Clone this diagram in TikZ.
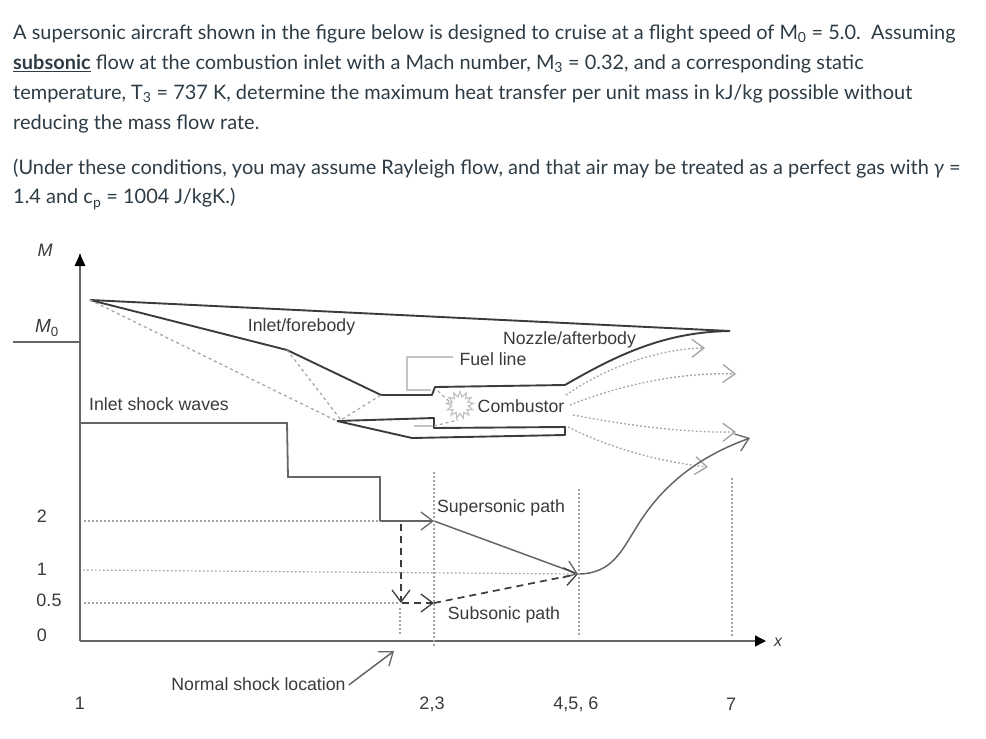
\documentclass[tikz,border=0pt]{standalone}
\usepackage{fontspec}
\setmainfont{Lato}
\newfontfamily\figfont{Liberation Sans}
\usetikzlibrary{arrows.meta,shapes.geometric}
\definecolor{bodytxt}{HTML}{2D3B45}
\definecolor{figtxt}{HTML}{3A3A3A}
\definecolor{wall}{HTML}{3C3C3C}
\definecolor{axisc}{HTML}{666666}
\definecolor{graph}{HTML}{666666}
\definecolor{dots}{HTML}{A2A2A2}
\definecolor{fuel}{HTML}{C4C4C4}
\tikzset{
  x=1pt,y=-1pt,
  body/.style={anchor=west,inner sep=0pt,text=bodytxt,font=\fontsize{19.95}{24}\selectfont},
  fig/.style={inner sep=0pt,text=figtxt,font=\figfont\fontsize{17.7}{21}\selectfont},
  tick/.style={fig,font=\figfont\fontsize{18}{19}\selectfont},
  vee/.style={-{Straight Barb[length=12pt,width=18pt,line width=1.3pt]}},
  wallline/.style={draw=wall,line width=1.9pt,line join=round},
  axisline/.style={draw=axisc,line width=1.5pt},
  stepline/.style={draw=graph,line width=1.8pt},
  pathline/.style={draw=graph,line width=1.5pt},
  dashpath/.style={draw=wall,line width=1.7pt,dash pattern=on 7pt off 5pt},
  dotline/.style={draw=dots,line width=1.2pt,dash pattern=on 1.6pt off 2.4pt},
  flowline/.style={draw=dots,line width=1.3pt,dash pattern=on 1.8pt off 2.2pt},
  shockline/.style={draw=dots,line width=1.2pt,dash pattern=on 3pt off 3pt},
  fuelline/.style={draw=fuel,line width=2.2pt},
}
\begin{document}
\begin{tikzpicture}
\useasboundingbox (0,0) rectangle (986,739);
% problem text
\node[body] at (13,34) {A supersonic aircraft shown in the figure below is designed to cruise at a flight speed of M\textsubscript{0} = 5.0.\ \ Assuming};
\node[body] at (13,64) {\underline{\textbf{subsonic}} flow at the combustion inlet with a Mach number, M\textsubscript{3} = 0.32, and a corresponding static};
\node[body] at (13,94) {temperature, T\textsubscript{3} = 737 K, determine the maximum heat transfer per unit mass in kJ/kg possible without};
\node[body] at (13,124) {reducing the mass flow rate.};
\node[body] at (13,169) {(Under these conditions, you may assume Rayleigh flow, and that air may be treated as a perfect gas with \textit{γ} =};
\node[body] at (13,199) {1.4 and c\textsubscript{p} = 1004 J/kgK.)};

% named points
\coordinate (org) at (80,641);
\coordinate (ytop) at (80,254);
\coordinate (xend) at (766,641);
\coordinate (m0l) at (13,342);
\coordinate (m0r) at (80,342);
\coordinate (nose) at (90,300);
\coordinate (tail) at (730,331);
\coordinate (ramp) at (287,350);
\coordinate (throatU) at (381,395);
\coordinate (cowl) at (337,421);
\coordinate (st1) at (80,423);
\coordinate (st2) at (287,423);
\coordinate (st3) at (288,477);
\coordinate (st4) at (380,477);
\coordinate (st5) at (380,521);
\coordinate (p23sup) at (434,521);
\coordinate (p23sub) at (434,603);
\coordinate (p456) at (578,574);
\coordinate (ntop) at (401,524);
\coordinate (nbot) at (401,603);

% axes
\draw[axisline] (org) -- (ytop);
\draw[axisline,-{Triangle[length=11pt,width=11pt,color=black]}] (org) -- (xend);
\fill[black] (74.5,266) -- (80,254) -- (85.5,266) -- cycle;
\draw[axisline] (m0l) -- (m0r);

% vehicle
\draw[wallline] (nose) -- (tail);
\draw[wallline] (nose) -- (ramp) -- (throatU) -- (432,395) -- (435,387) -- (565,385)
  .. controls (625,350) and (670,332) .. (tail);
\draw[wallline] (cowl) -- (434,418) -- (434,428) -- (565,427) -- (565,435) -- (412,438) -- (cowl);

% shocks
\draw[shockline] (nose) -- (cowl);
\draw[shockline] (ramp) -- (341,420) -- (throatU);
\draw[shockline] (438,391) -- (452,404);
\draw[shockline] (434,426) -- (458,420);

% fuel
\draw[fuelline] (453,357) -- (407,357) -- (407,390) -- (431,390);
\draw[fuelline] (414,426) -- (433,426);
\node[draw=fuel,line width=1.3pt,star,star points=13,star point ratio=1.6,minimum size=27pt,inner sep=0pt] (burst) at (460,405) {};

% exhaust flow
\draw[flowline,vee] (566,395) .. controls (610,365) and (660,349) .. (705,348);
\draw[flowline,vee] (570,405) .. controls (620,385) and (680,372) .. (736,374);
\draw[flowline,vee] (573,415) .. controls (620,424) and (680,433) .. (736,432);
\draw[flowline,vee] (568,427) .. controls (610,448) and (660,462) .. (708,467);

% Mach graph
\draw[stepline] (st1) -- (st2) -- (st3) -- (st4) -- (st5);
\draw[stepline,vee] (st5) -- (p23sup);
\draw[pathline,vee] (p23sup) -- (p456);
\draw[dashpath,vee] (p23sub) -- (p456);
\draw[dashpath,vee] (ntop) -- (nbot);
\draw[dashpath,vee] (402,603) -- (p23sub);
\draw[pathline,vee] (p456) .. controls (612,574) and (622,550) .. (636,528)
  .. controls (660,488) and (695,458) .. (750,438);

% guides
\draw[dotline] (84,521) -- (st5);
\draw[dotline] (83,570) -- (p456);
\draw[dotline] (84,603) -- (400,603);
\draw[dotline] (434,472) -- (434,647);
\draw[dotline] (579,489) -- (579,637);
\draw[dotline] (732,478) -- (732,636);
\draw[dotline] (400,608) -- (400,634);

% labels
\node[fig,font=\figfont\itshape\fontsize{18}{19}\selectfont] (lM) at (45,250) {M};
\node[fig,font=\figfont\itshape\fontsize{19}{19}\selectfont] (lM0) at (47,328) {M\textsubscript{\upshape 0}};
\node[fig] (linlet) at (301.5,327) {Inlet/forebody};
\node[fig] (lnozzle) at (569.5,340) {Nozzle/afterbody};
\node[fig] (lfuel) at (493,359) {Fuel line};
\node[fig] (lshock) at (159,404) {Inlet shock waves};
\node[fig] (lcomb) at (521,406) {Combustor};
\node[fig] (lsup) at (501,508) {Supersonic path};
\node[fig] (lsub) at (504,615) {Subsonic path};
\node[fig] (lnorm) at (258.5,684) {Normal shock location};
\draw[pathline,vee] (lnorm.east) ++(3,1) coordinate (nstart) -- (394,651);
\node[tick] (t2) at (42,516) {2};
\node[tick] (t1) at (42,569) {1};
\node[tick] (t05) at (49,600) {0.5};
\node[tick] (t0) at (42,635) {0};
\node[tick] (x1) at (80,703) {1};
\node[tick] (x23) at (432,704) {2,3};
\node[tick] (x456) at (576,704) {4,5, 6};
\node[tick] (x7) at (731,704) {7};
\node[tick,font=\figfont\itshape\fontsize{16}{19}\selectfont] (lx) at (778,642) {x};
\end{tikzpicture}
\end{document}
